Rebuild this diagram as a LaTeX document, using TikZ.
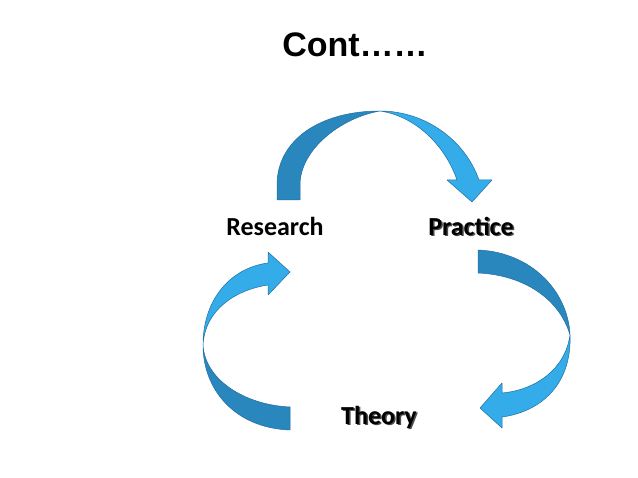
\documentclass[tikz,border=0pt]{standalone}
\usepackage{fontspec}
\setmainfont{Carlito}
\newfontfamily\titlefont{Liberation Sans}
\definecolor{lightb}{HTML}{33ACE9}
\definecolor{darkb}{HTML}{2A87BE}
\definecolor{edgeb}{HTML}{1F6FA3}
\begin{document}
\begin{tikzpicture}[x=1pt,y=-1pt,
  lightpart/.style={fill=lightb,draw=edgeb,line width=0.5pt,line join=round},
  darkpart/.style={fill=darkb,draw=edgeb,line width=0.5pt,line join=round},
  lbl/.style={font=\bfseries\fontsize{26}{28}\selectfont,inner sep=0pt},
  shadowlbl/.style={lbl,text=black!70}]
\useasboundingbox[fill=white] (0,0) rectangle (638,478);
\node[inner sep=0pt,font=\titlefont\bfseries\fontsize{34}{36}\selectfont] (title) at (355,45) {Cont……};
% top arrow
\draw[darkpart] (277,200) -- (277,185) .. controls (277,140) and (320,111) .. (380,111)
  .. controls (340,118) and (300,150) .. (300,185) -- (300,200) -- cycle;
\draw[lightpart] (380,111) .. controls (425,111) and (465,140) .. (479,180) -- (492,180) -- (472,202) -- (447,180) -- (457,180)
  .. controls (445,145) and (415,116) .. (380,111) -- cycle;
% right arrow
\draw[darkpart] (478,250) .. controls (530,252) and (568,290) .. (570,335)
  .. controls (560,300) and (525,275) .. (478,273) -- cycle;
\draw[lightpart] (570,335) .. controls (572,385) and (540,412) .. (502,417) -- (502,428) -- (480,408) -- (502,383) -- (502,393)
  .. controls (535,390) and (565,370) .. (570,335) -- cycle;
% left arrow
\draw[darkpart] (290,430) .. controls (235,428) and (203,390) .. (203,345)
  .. controls (205,380) and (245,405) .. (290,407) -- cycle;
\draw[lightpart] (203,345) .. controls (203,300) and (230,268) .. (268,263) -- (268,252) -- (290,272) -- (268,295) -- (268,285)
  .. controls (235,290) and (205,310) .. (203,345) -- cycle;
% labels
\node[lbl] (research) at (275,226) {Research};
\node[shadowlbl] at (472.5,227.5) {Practice};
\node[lbl] (practice) at (471,226) {Practice};
\node[shadowlbl] at (380.5,418.5) {Theory};
\node[lbl] (theory) at (379,417) {Theory};
\end{tikzpicture}
\end{document}
